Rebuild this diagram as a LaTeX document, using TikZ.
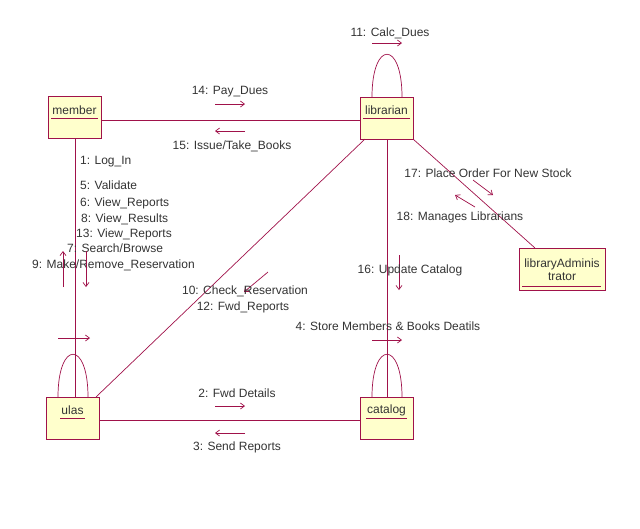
\documentclass[tikz,border=0pt]{standalone}
\usepackage{fontspec}
\setmainfont{Liberation Sans}
\usetikzlibrary{arrows.meta}
\definecolor{ln}{HTML}{A0124A}
\definecolor{bx}{HTML}{FFFFCC}
\begin{document}
\begin{tikzpicture}[x=1pt,y=-1pt,
  obj/.style={draw=ln,fill=bx,line width=0.8pt,minimum width=53pt,minimum height=42pt,anchor=north west},
  lnk/.style={draw=ln,line width=0.7pt},
  ul/.style={draw=ln,line width=0.9pt},
  msg/.style={draw=ln,line width=0.7pt,-{Straight Barb[length=4pt,width=6pt]}},
  lbl/.style={font=\fontsize{12}{13}\selectfont,text=black!80,inner sep=0pt}]
\useasboundingbox (0,0) rectangle (640,528);
\node[obj] (member) at (48,96) {};
\node[obj] (librarian) at (360,97) {};
\node[obj,minimum width=86pt] (admin) at (519,248) {};
\node[obj] (ulas) at (46,397) {};
\node[obj] (catalog) at (360,397) {};
\node[lbl] (membert) at (74.5,110) {member};
\draw[ul] (51,118) -- (98,118);
\node[lbl] (libt) at (386.5,110) {librarian};
\draw[ul] (363,118) -- (410,118);
\node[lbl,align=center] (admt) at (562,270) {libraryAdminis\\trator};
\draw[ul] (522,286) -- (601,286);
\node[lbl] (ulast) at (72.5,410) {ulas};
\draw[ul] (60,418) -- (85,418);
\node[lbl] (catt) at (386.5,410) {catalog};
\draw[ul] (366,418) -- (407,418);
% links
\draw[lnk] (member.east |- 0,120) -- (librarian.west |- 0,120);
\draw[lnk] (75,139) -- (75,397);
\draw[lnk] (96,397) -- (365,139);
\draw[lnk] (ulas.east |- 0,420) -- (catalog.west |- 0,420);
\draw[lnk] (387,139) -- (387,397);
\draw[lnk] (413,139) -- (535,248);
% self loops
\draw[lnk] (58,397) .. controls (58,340) and (88,340) .. (88,397);
\draw[lnk] (372,397) .. controls (372,340) and (402,340) .. (402,397);
\draw[lnk] (372,97) .. controls (372,40) and (402,40) .. (402,97);
% messages
\coordinate (a1) at (372,43); \coordinate (a2) at (402,43); \draw[msg] (a1) -- (a2);
\node[lbl] (l11) at (390,33) {11: Calc\_Dues};
\coordinate (b1) at (215,104); \coordinate (b2) at (245,104); \draw[msg] (b1) -- (b2);
\node[lbl] (l14) at (230,92) {14: Pay\_Dues};
\coordinate (c1) at (245,131); \coordinate (c2) at (215,131); \draw[msg] (c1) -- (c2);
\node[lbl] (l15) at (232,146) {15: Issue/Take\_Books};
\node[lbl,anchor=west] (l1) at (80,162) {1: Log\_In};
\node[lbl,anchor=west] (l5) at (80,185) {5: Validate};
\node[lbl,anchor=west] (l6) at (80,203) {6: View\_Reports};
\node[lbl,anchor=west] (l8) at (81,219) {8: View\_Results};
\node[lbl,anchor=west] (l13) at (76,234) {13: View\_Reports};
\node[lbl,anchor=west] (l7) at (67,248) {7: Search/Browse};
\node[lbl,anchor=west] (l9) at (32,265) {9: Make/Remove\_Reservation};
\coordinate (d1) at (63,287); \coordinate (d2) at (63,251); \draw[msg] (d1) -- (d2);
\coordinate (e1) at (86,251); \coordinate (e2) at (86,287); \draw[msg] (e1) -- (e2);
\coordinate (f1) at (58,338); \coordinate (f2) at (90,338); \draw[msg] (f1) -- (f2);
\coordinate (g1) at (268,272); \coordinate (g2) at (244,292); \draw[msg] (g1) -- (g2);
\node[lbl] (l10) at (245,291) {10: Check\_Reservation};
\node[lbl] (l12) at (243,307) {12: Fwd\_Reports};
\coordinate (h1) at (215,406); \coordinate (h2) at (245,406); \draw[msg] (h1) -- (h2);
\node[lbl] (l2) at (237,393) {2: Fwd Details};
\coordinate (i1) at (245,433); \coordinate (i2) at (215,433); \draw[msg] (i1) -- (i2);
\node[lbl] (l3) at (237,447) {3: Send Reports};
\coordinate (j1) at (399,255); \coordinate (j2) at (399,290); \draw[msg] (j1) -- (j2);
\node[lbl] (l16) at (410,270) {16: Update Catalog};
\coordinate (k1) at (372,340); \coordinate (k2) at (402,340); \draw[msg] (k1) -- (k2);
\node[lbl] (l4) at (388,326) {4: Store Members \& Books Deatils};
\coordinate (m1) at (473,180); \coordinate (m2) at (493,195); \draw[msg] (m1) -- (m2);
\node[lbl] (l17) at (488,173) {17: Place Order For New Stock};
\coordinate (n1) at (475,207); \coordinate (n2) at (455,195); \draw[msg] (n1) -- (n2);
\node[lbl] (l18) at (460,217) {18: Manages Librarians};
\end{tikzpicture}
\end{document}
